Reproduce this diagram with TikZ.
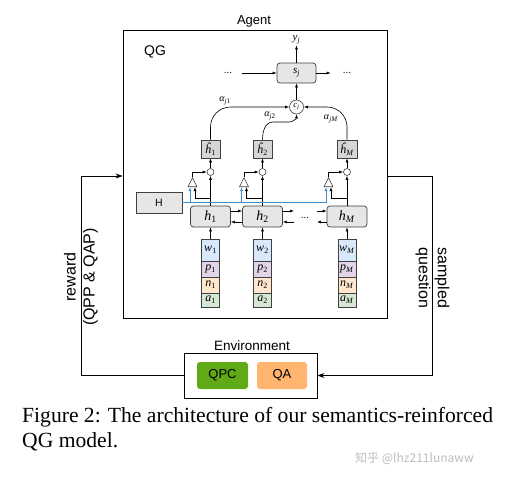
\documentclass[tikz,border=0pt]{standalone}
\usepackage{fontspec}
\setmainfont{Liberation Sans}
\newfontfamily\tms{Liberation Serif}
\newfontfamily\cjk{Noto Sans CJK SC}
\usetikzlibrary{arrows.meta,shapes.geometric,calc}
\definecolor{wcol}{HTML}{DAE8FC}
\definecolor{pcol}{HTML}{E1D5E7}
\definecolor{ncol}{HTML}{FFE6CC}
\definecolor{acol}{HTML}{D5E8D4}
\definecolor{boxgray}{HTML}{E6E6E6}
\definecolor{hhgray}{HTML}{D6D6D6}
\definecolor{edgegray}{HTML}{404040}
\definecolor{hblue}{RGB}{60,140,210}
\definecolor{qpcgreen}{HTML}{60A917}
\definecolor{qaorange}{HTML}{FFB570}
\definecolor{wmgray}{HTML}{BDBDBD}
\newcommand{\fs}[1]{\fontsize{#1}{#1}\selectfont}
\begin{document}
\begin{tikzpicture}[x=1pt,y=-1pt,
  arr/.style={-{Latex[length=4pt,width=3pt]}, line width=0.6pt},
  bluearr/.style={-{Latex[length=4pt,width=3pt]}, line width=0.8pt, draw=hblue},
  looparr/.style={-{Stealth[length=7pt,width=5pt]}, line width=0.8pt},
  hbox/.style={draw=edgegray, fill=boxgray, line width=0.7pt, rounded corners=3pt, minimum width=40pt, minimum height=21pt, inner sep=0},
  hhbox/.style={draw=edgegray, fill=hhgray, line width=0.7pt, minimum width=19pt, minimum height=18pt, inner sep=0},
  gate/.style={circle, draw=edgegray, fill=white, line width=0.6pt, minimum size=7pt, inner sep=0},
  tri/.style={isosceles triangle, isosceles triangle stretches, shape border rotate=90, draw=edgegray, fill=white, line width=0.6pt, minimum width=9pt, minimum height=9pt, inner sep=0},
  wordbox/.style={draw=edgegray, line width=0.6pt, minimum width=18pt, inner sep=0, font=\tms\fs{12}},
  mlbl/.style={inner sep=0, font=\tms\fs{10}},
  dots/.style={inner sep=0, font=\fs{10}},
  envbox/.style={rounded corners=3pt, minimum width=50pt, minimum height=27pt, inner sep=0, font=\fs{13}},
  looplbl/.style={align=center, inner sep=0, font=\fontsize{16}{19}\selectfont}
]
\useasboundingbox[fill=white] (0,0) rectangle (515,477);

% Agent box
\node[draw, line width=0.8pt, minimum width=264pt, minimum height=288pt, inner sep=0] (agent) at (255,174) {};
\node[anchor=base, inner sep=0, font=\fs{13}] (agentlbl) at (254,24) {Agent};
\node[anchor=base, inner sep=0, font=\fs{14}] (qg) at (155,55) {QG};

% decoder state
\node[hbox, minimum width=39pt, minimum height=20pt] (sj) at (296.5,73) {\tms\fs{11}\textit{s}\textsubscript{\textit{j}}};
\node[inner sep=1pt, font=\tms\fs{11}] (yj) at (296.5,40) {\textit{y}\textsubscript{\textit{j}}};
\draw[arr] (sj) -- (yj);
\node[dots] (dl) at (228,73) {...};
\node[dots] (dr) at (347,73) {...};
\draw[arr, shorten <=10pt] (dl) -- (sj);
\draw[arr, shorten >=12pt] (sj) -- (dr);

% context
\node[circle, draw=edgegray, fill=white, line width=0.6pt, minimum size=14pt, inner sep=0, font=\tms\fs{9}] (cj) at (296.5,107) {\textit{c}\textsubscript{\textit{j}}};
\draw[arr] (cj) -- (sj);

% gated hidden states
\node[hhbox] (hh1) at (210.5,149) {\tms\fs{12}\textit{ĥ}\textsubscript{1}};
\node[hhbox] (hh2) at (262.5,149) {\tms\fs{12}\textit{ĥ}\textsubscript{2}};
\node[hhbox, minimum width=20pt] (hhM) at (347,149) {\tms\fs{12}\textit{ĥ}\textsubscript{\textit{M}}};

\draw[arr, rounded corners=20pt] (hh1.north) |- (cj.west);
\draw[arr] (hh2.north) to[out=90,in=180] (273,122) -- (289,122) to[out=0,in=-90] (cj.south);
\draw[arr, rounded corners=20pt] (hhM.north) |- (cj.east);

\node[mlbl] (al1) at (225,101) {\textit{α}\textsubscript{\textit{j}1}};
\node[mlbl] (al2) at (270,116) {\textit{α}\textsubscript{\textit{j}2}};
\node[mlbl] (alM) at (331,119) {\textit{α}\textsubscript{\textit{jM}}};

% gates
\node[gate] (g1) at (210.5,172) {};
\node[gate] (g2) at (262.5,172) {};
\node[gate] (gM) at (347,172) {};
\draw[arr] (g1) -- (hh1);
\draw[arr] (g2) -- (hh2);
\draw[arr] (gM) -- (hhM);

\node[tri] (t1) at (192.5,184) {};
\node[tri] (t2) at (244,184) {};
\node[tri] (tM) at (328.5,184) {};
\draw[arr] (t1.apex) |- (g1.west);
\draw[arr] (t2.apex) |- (g2.west);
\draw[arr] (tM.apex) |- (gM.west);

\coordinate (b1) at ([xshift=-2.5pt]t1.south);
\coordinate (k1) at ([xshift=2.5pt]t1.south);
\coordinate (b2) at ([xshift=-2.5pt]t2.south);
\coordinate (k2) at ([xshift=2.5pt]t2.south);
\coordinate (bM) at ([xshift=-2.5pt]tM.south);
\coordinate (kM) at ([xshift=2.5pt]tM.south);

% encoder
\node[hbox] (h1) at (210.5,216.5) {\tms\fs{14}\textit{h}\textsubscript{1}};
\node[hbox] (h2) at (262.5,216.5) {\tms\fs{14}\textit{h}\textsubscript{2}};
\node[hbox] (hM) at (347,216.5) {\tms\fs{14}\textit{h}\textsubscript{\textit{M}}};

% H node
\node[draw=edgegray, fill=boxgray, line width=0.7pt, minimum width=46pt, minimum height=21pt, inner sep=0, font=\fs{10.5}] (H) at (159,202.5) {H};

% vertical h -> gate
\draw[arr] (h1) -- (g1);
\draw[arr] (h2) -- (g2);
\draw[arr] (hM) -- (gM);

% black branch to triangles
\coordinate (j1) at (210.5,198);
\coordinate (j2) at (262.5,198);
\coordinate (jM) at (347,198);
\draw[arr] (j1) -| (k1);
\draw[arr] (j2) -| (k2);
\draw[arr] (jM) -| (kM);

% blue lines from H
\draw[bluearr] (H.east) -| (bM);
\draw[bluearr] (b1 |- H.east) -- (b1);
\draw[bluearr] (b2 |- H.east) -- (b2);

% bidirectional arrows
\draw[arr] ([yshift=5.5pt]h1.east) -- ([yshift=5.5pt]h2.west);
\draw[arr] ([yshift=-5.5pt]h2.west) -- ([yshift=-5.5pt]h1.east);
\node[dots] (hd) at (305,218) {...};
\coordinate (dU1) at (294,211);
\coordinate (dL1) at (294,222);
\coordinate (dU2) at (317,211);
\coordinate (dL2) at (317,222);
\draw[arr] (h2.east |- dU1) -- (dU1);
\draw[arr] (dL1) -- (h2.east |- dL1);
\draw[arr] (dU2) -- (hM.west |- dU2);
\draw[arr] (hM.west |- dL2) -- (dL2);

% word feature stacks
\foreach \c/\x/\s in {1/210.5/1, 2/262.5/2, M/347/\textit{M}} {
  \node[wordbox, fill=wcol, minimum height=22pt] (w\c) at (\x,250) {\textit{w}\textsubscript{\s}};
  \node[wordbox, fill=pcol, minimum height=16pt] (p\c) at (\x,269) {\textit{p}\textsubscript{\s}};
  \node[wordbox, fill=ncol, minimum height=16pt] (n\c) at (\x,285) {\textit{n}\textsubscript{\s}};
  \node[wordbox, fill=acol, minimum height=14pt] (a\c) at (\x,300) {\textit{a}\textsubscript{\s}};
}
\draw[arr] (w1) -- (h1);
\draw[arr] (w2) -- (h2);
\draw[arr] (wM) -- (hM);

% Environment
\node[draw, line width=0.8pt, minimum width=133pt, minimum height=45pt, inner sep=0] (env) at (250.5,375.5) {};
\node[anchor=base, inner sep=0, font=\fs{13.5}] (envlbl) at (252,350) {Environment};
\node[envbox, fill=qpcgreen, minimum width=51pt] (qpc) at (222.5,375.5) {QPC};
\node[envbox, fill=qaorange] (qa) at (282,375.5) {QA};

% loops
\coordinate (lt) at (81,176);
\coordinate (lb) at (81,375.5);
\coordinate (rt) at (432.5,176);
\coordinate (rb) at (432.5,375.5);
\draw[looparr] (env.west) -- (lb) -- (lt) -- (agent.west |- lt);
\draw[looparr] (agent.east |- rt) -- (rt) -- (rb) -- (env.east);
\node[looplbl, rotate=90] (rew) at (81,277) {reward\\(QPP \& QAP)};
\node[looplbl, rotate=-90] (samp) at (432.5,278) {sampled\\question};

% caption
\node[anchor=base west, inner sep=0, font=\tms\fontsize{21.6}{25}\selectfont] (cap1) at (22,422.5) {Figure 2: The architecture of our semantics-reinforced};
\node[anchor=base west, inner sep=0, font=\tms\fontsize{21.6}{25}\selectfont] (cap2) at (22,447.5) {QG model.};
\node[anchor=base west, inner sep=0, text=wmgray, font=\cjk\fs{12}] (wm) at (355,462) {知乎 @lhz211lunaww};
\end{tikzpicture}
\end{document}
